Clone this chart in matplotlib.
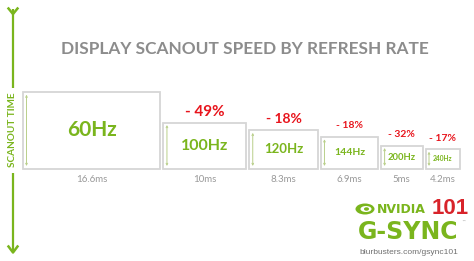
import matplotlib.pyplot as plt
from matplotlib.patches import Rectangle, Ellipse

# data
rates = ['60Hz', '100Hz', '120Hz', '144Hz', '200Hz', '240Hz']
scanout_ms = [16.6, 10, 8.3, 6.9, 5, 4.2]
ms_labels = ['16.6ms', '10ms', '8.3ms', '6.9ms', '5ms', '4.2ms']
drops = ['', '- 49%', '- 18%', '- 18%', '- 32%', '- 17%']

# style
GREEN = '#7ab51d'
RED = '#e8141c'
GRAY = '#8c8c8c'
label_sizes = [15, 11.5, 9.5, 7.5, 6.8, 4.8]
drop_sizes = [0, 11, 10, 7.5, 7.5, 7.5]
px_per_ms = 4.6
aspect = 1.8
gap = 3
x0, base = 23, 168.5

fig = plt.figure(figsize=(4.74, 2.61), dpi=100)
ax = fig.add_axes([0, 0, 1, 1])
ax.set_xlim(0, 474)
ax.set_ylim(261, 0)
ax.axis('off')

ax.text(245, 49, 'DISPLAY SCANOUT SPEED BY REFRESH RATE', ha='center', va='center',
        fontsize=12.4, fontweight='bold', color=GRAY, family='Lato')

# scanout time arrow on the left
ax.plot([13, 13], [9, 88], color=GREEN, lw=1.6, solid_capstyle='butt')
ax.plot([13, 13], [173, 252], color=GREEN, lw=1.6, solid_capstyle='butt')
ax.plot([8.5, 13, 17.5], [8.5, 14, 8.5], color=GREEN, lw=1.8)
ax.plot([8.5, 13, 17.5], [246.5, 252.5, 246.5], color=GREEN, lw=1.8)
ax.text(13, 130, 'SCANOUT TIME', rotation=90, ha='center', va='center',
        fontsize=7.2, fontweight='bold', color=GREEN, family='Lato')

x = x0
for i in range(len(rates)):
    h = scanout_ms[i] * px_per_ms
    w = h * aspect
    top = base - h
    ax.add_patch(Rectangle((x, top), w, h, facecolor='white', edgecolor='#d6d6d6', lw=1.3))
    ax.annotate('', xy=(x + 3.5, top + 2.5), xytext=(x + 3.5, base - 2.5),
                arrowprops=dict(arrowstyle='<->', color='#b9cf8a', lw=0.7,
                                mutation_scale=3, shrinkA=0, shrinkB=0))
    cx = x + w / 2
    ax.text(cx, base - h / 2, rates[i], ha='center', va='center', fontsize=label_sizes[i],
            fontweight='bold', color=GREEN, family='Lato')
    ax.text(cx, 179, ms_labels[i], ha='center', va='center', fontsize=7,
            color='#999999', family='Lato')
    if drops[i]:
        ax.text(cx, top - 11, drops[i], ha='center', va='center', fontsize=drop_sizes[i],
                fontweight='bold', color=RED, family='Lato')
    x += w + gap

# logo
ax.add_patch(Ellipse((365, 209), 19, 11, facecolor=GREEN, edgecolor='none'))
ax.add_patch(Ellipse((366, 209), 11, 6, facecolor='white', edgecolor='none'))
ax.add_patch(Ellipse((366.5, 209), 5, 3.5, facecolor=GREEN, edgecolor='none'))
ax.text(377, 209.5, 'NVIDIA', ha='left', va='center', fontsize=9, fontweight='bold',
        color=GREEN, family='DejaVu Sans')
ax.text(450, 208, '101', ha='center', va='center', fontsize=16, fontweight='bold',
        color='#d8232a', family='Liberation Sans')
ax.text(408, 232, 'G-SYNC', ha='center', va='center', fontsize=17, fontweight='bold',
        color=GREEN, family='DejaVu Sans')
ax.text(461, 222, '™', ha='left', va='center', fontsize=3, color='#999999')
ax.text(409, 252, 'blurbusters.com/gsync101', ha='center', va='center', fontsize=6,
        color='#707070', family='Liberation Sans')

fig.savefig('out.png', dpi=100)
